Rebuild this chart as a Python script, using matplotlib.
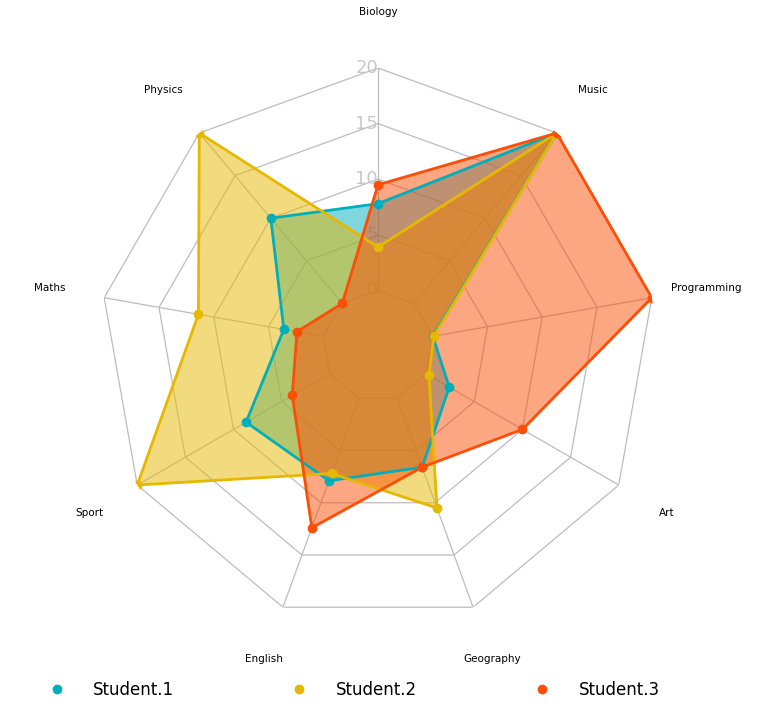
import numpy as np
import matplotlib
matplotlib.use("Agg")
import matplotlib.pyplot as plt

subjects = ["Biology", "Music", "Programming", "Art", "Geography",
            "English", "Sport", "Maths", "Physics"]
student1 = [7.8, 20, 0, 2.4, 6.6, 7.9, 8.7, 3.6, 10]
student2 = [3.9, 20, 0.1, 0.3, 10.5, 7.2, 20, 11.4, 20]
student3 = [9.5, 20, 20, 10, 6.6, 12.4, 3.9, 2.4, 0]
names = ["Student.1", "Student.2", "Student.3"]
colors = ["#00AFBB", "#E7B800", "#FC4E07"]
rings = [0, 5, 10, 15, 20]

fig = plt.figure(figsize=(7.61, 7.14), dpi=100)
ax = fig.add_axes([100 / 761, 90 / 714, 556 / 761, 556 / 714], projection="polar")
ax.set_theta_offset(np.pi / 2)
ax.set_theta_direction(-1)
ax.set_ylim(-5, 20)
ax.grid(False)
ax.spines["polar"].set_visible(False)
ax.set_xticks([])
ax.set_yticks([])

n = len(subjects)
theta = np.linspace(0, 2 * np.pi, n, endpoint=False)
tc = np.append(theta, theta[0])

for r in rings:
    ax.plot(tc, [r] * (n + 1), color="#bdbdbd", lw=0.9, zorder=1)
for t in theta:
    ax.plot([t, t], [0, 20], color="#bdbdbd", lw=0.9, zorder=1)
for r in rings:
    ax.text(0, r, str(r), ha="right", va="center", fontsize=13,
            color="#c8c8c8", zorder=1)

for vals, c, name in zip([student1, student2, student3], colors, names):
    v = np.append(vals, vals[0])
    ax.fill(tc, v, color=c, alpha=0.5, lw=0, zorder=2)
    ax.plot(tc, v, color=c, lw=2, zorder=3)
    ax.plot(theta, vals, "o", color=c, ms=6, zorder=3, label=name)

for t, s in zip(theta, subjects):
    ax.text(t, 25, s, ha="center", va="center", fontsize=7.5, clip_on=False)

fig.legend(loc="lower center", bbox_to_anchor=(0.46, 0.0), ncol=3,
           frameon=False, fontsize=12, handletextpad=1.2, columnspacing=6.5,
           markerscale=1)
fig.savefig("out.png", dpi=100)
